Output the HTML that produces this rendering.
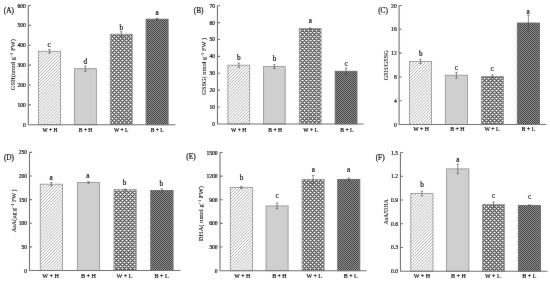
<!DOCTYPE html>
<html lang="en"><head><meta charset="utf-8"><title>Figure</title>
<style>html,body{margin:0;padding:0;background:#fff}svg{display:block}text{stroke:#111;stroke-width:.2px}.yl{stroke-width:.08px}</style>
</head><body>
<svg width="550" height="281" viewBox="0 0 550 281" font-family='"Liberation Serif", serif' fill="#111">
<defs>
<filter id="soft" filterUnits="userSpaceOnUse" x="-10" y="-10" width="570" height="301" color-interpolation-filters="sRGB"><feConvolveMatrix order="3" kernelMatrix="0.00163 0.03713 0.00163 0.03713 0.84497 0.03713 0.00163 0.03713 0.00163" divisor="1" edgeMode="duplicate" preserveAlpha="true"/></filter>
<pattern id="p4" patternUnits="userSpaceOnUse" width="2" height="2"><rect width="2" height="2" fill="#969696"/><rect width="1" height="1" fill="#3e3e3e"/><rect x="1" y="1" width="1" height="1" fill="#3e3e3e"/></pattern>
</defs>
<g filter="url(#soft)">
<rect x="-10" y="-10" width="570" height="301" fill="#fff"/>
<g id="chartA">
<clipPath id="kA0"><rect x="38.50" y="51.30" width="22.00" height="73.40"/></clipPath>
<rect x="38.50" y="51.30" width="22.00" height="73.40" fill="#fff"/>
<path clip-path="url(#kA0)" d="M-40.30 125.70L35.10 50.30M-37.25 125.70L38.15 50.30M-34.20 125.70L41.20 50.30M-31.15 125.70L44.25 50.30M-28.10 125.70L47.30 50.30M-25.05 125.70L50.35 50.30M-22.00 125.70L53.40 50.30M-18.95 125.70L56.45 50.30M-15.90 125.70L59.50 50.30M-12.85 125.70L62.55 50.30M-9.80 125.70L65.60 50.30M-6.75 125.70L68.65 50.30M-3.70 125.70L71.70 50.30M-0.65 125.70L74.75 50.30M2.40 125.70L77.80 50.30M5.45 125.70L80.85 50.30M8.50 125.70L83.90 50.30M11.55 125.70L86.95 50.30M14.60 125.70L90.00 50.30M17.65 125.70L93.05 50.30M20.70 125.70L96.10 50.30M23.75 125.70L99.15 50.30M26.80 125.70L102.20 50.30M29.85 125.70L105.25 50.30M32.90 125.70L108.30 50.30M35.95 125.70L111.35 50.30M39.00 125.70L114.40 50.30M42.05 125.70L117.45 50.30M45.10 125.70L120.50 50.30M48.15 125.70L123.55 50.30M51.20 125.70L126.60 50.30M54.25 125.70L129.65 50.30M57.30 125.70L132.70 50.30M60.35 125.70L135.75 50.30" stroke="#7a7a7a" stroke-width="0.62" fill="none"/>
<rect x="38.50" y="51.30" width="22.00" height="73.40" fill="none" stroke="#909090" stroke-width="0.8"/>
<path d="M49.50 49.40V53.20M48.30 49.40h2.4M48.30 53.20h2.4" stroke="#444" stroke-width="0.6" fill="none"/>
<rect x="74.35" y="68.70" width="22.00" height="56.00" fill="#cfcfcf" stroke="#909090" stroke-width="0.8"/>
<path d="M85.35 66.20V71.20M84.15 66.20h2.4M84.15 71.20h2.4" stroke="#444" stroke-width="0.6" fill="none"/>
<clipPath id="kA2"><rect x="110.25" y="34.20" width="22.00" height="90.50"/></clipPath>
<rect x="110.25" y="34.20" width="22.00" height="90.50" fill="#fff"/>
<path clip-path="url(#kA2)" d="M15.30 125.70L107.80 33.20M19.30 125.70L111.80 33.20M23.30 125.70L115.80 33.20M27.30 125.70L119.80 33.20M31.30 125.70L123.80 33.20M35.30 125.70L127.80 33.20M39.30 125.70L131.80 33.20M43.30 125.70L135.80 33.20M47.30 125.70L139.80 33.20M51.30 125.70L143.80 33.20M55.30 125.70L147.80 33.20M59.30 125.70L151.80 33.20M63.30 125.70L155.80 33.20M67.30 125.70L159.80 33.20M71.30 125.70L163.80 33.20M75.30 125.70L167.80 33.20M79.30 125.70L171.80 33.20M83.30 125.70L175.80 33.20M87.30 125.70L179.80 33.20M91.30 125.70L183.80 33.20M95.30 125.70L187.80 33.20M99.30 125.70L191.80 33.20M103.30 125.70L195.80 33.20M107.30 125.70L199.80 33.20M111.30 125.70L203.80 33.20M115.30 125.70L207.80 33.20M119.30 125.70L211.80 33.20M123.30 125.70L215.80 33.20M127.30 125.70L219.80 33.20M131.30 125.70L223.80 33.20M17.20 33.20L109.70 125.70M21.20 33.20L113.70 125.70M25.20 33.20L117.70 125.70M29.20 33.20L121.70 125.70M33.20 33.20L125.70 125.70M37.20 33.20L129.70 125.70M41.20 33.20L133.70 125.70M45.20 33.20L137.70 125.70M49.20 33.20L141.70 125.70M53.20 33.20L145.70 125.70M57.20 33.20L149.70 125.70M61.20 33.20L153.70 125.70M65.20 33.20L157.70 125.70M69.20 33.20L161.70 125.70M73.20 33.20L165.70 125.70M77.20 33.20L169.70 125.70M81.20 33.20L173.70 125.70M85.20 33.20L177.70 125.70M89.20 33.20L181.70 125.70M93.20 33.20L185.70 125.70M97.20 33.20L189.70 125.70M101.20 33.20L193.70 125.70M105.20 33.20L197.70 125.70M109.20 33.20L201.70 125.70M113.20 33.20L205.70 125.70M117.20 33.20L209.70 125.70M121.20 33.20L213.70 125.70M125.20 33.20L217.70 125.70M129.20 33.20L221.70 125.70M133.20 33.20L225.70 125.70" stroke="#505050" stroke-width="1.15" fill="none"/>
<rect x="110.25" y="34.20" width="22.00" height="90.50" fill="none" stroke="#909090" stroke-width="0.8"/>
<path d="M121.25 31.70V36.70M120.05 31.70h2.4M120.05 36.70h2.4" stroke="#444" stroke-width="0.6" fill="none"/>
<rect x="146.10" y="19.20" width="22.00" height="105.50" fill="url(#p4)" stroke="#6a6a6a" stroke-width="0.9"/>
<path d="M157.10 18.30V20.10M155.90 18.30h2.4M155.90 20.10h2.4" stroke="#444" stroke-width="0.6" fill="none"/>
<path d="M28.30 5.50V124.70H175.40M28.30 104.83h2.6M28.30 84.97h2.6M28.30 65.10h2.6M28.30 45.23h2.6M28.30 25.37h2.6M28.30 5.50h2.6" stroke="#727272" stroke-width="1.1" fill="none"/>
<text x="25.90" y="126.70" font-size="5.6" text-anchor="end">0</text>
<text x="25.90" y="106.83" font-size="5.6" text-anchor="end">100</text>
<text x="25.90" y="86.97" font-size="5.6" text-anchor="end">200</text>
<text x="25.90" y="67.10" font-size="5.6" text-anchor="end">300</text>
<text x="25.90" y="47.23" font-size="5.6" text-anchor="end">400</text>
<text x="25.90" y="27.37" font-size="5.6" text-anchor="end">500</text>
<text x="25.90" y="7.50" font-size="5.6" text-anchor="end">600</text>
<text x="50.00" y="132.00" font-size="5.5" text-anchor="middle">W + H</text>
<text x="85.60" y="132.00" font-size="5.5" text-anchor="middle">B + H</text>
<text x="121.25" y="132.00" font-size="5.5" text-anchor="middle">W + L</text>
<text x="157.10" y="132.00" font-size="5.5" text-anchor="middle">B + L</text>
<text x="49.10" y="47.20" font-size="7.2" text-anchor="middle">c</text>
<text x="85.40" y="64.10" font-size="7.2" text-anchor="middle">d</text>
<text x="121.40" y="29.90" font-size="7.2" text-anchor="middle">b</text>
<text x="157.00" y="14.90" font-size="7.2" text-anchor="middle">a</text>
<text x="3.80" y="12.90" font-size="7.3">(A)</text>
<text transform="translate(14.80 90.30) rotate(-90)" class="yl" font-size="5.8" textLength="51.1" lengthAdjust="spacingAndGlyphs">GSH(nmol g<tspan dy="-2" font-size="3.6">−1</tspan><tspan dy="2"> FW)</tspan></text>
</g>
<g id="chartB">
<clipPath id="kB0"><rect x="227.90" y="65.20" width="21.80" height="58.75"/></clipPath>
<rect x="227.90" y="65.20" width="21.80" height="58.75" fill="#fff"/>
<path clip-path="url(#kB0)" d="M164.80 124.95L225.55 64.20M167.85 124.95L228.60 64.20M170.90 124.95L231.65 64.20M173.95 124.95L234.70 64.20M177.00 124.95L237.75 64.20M180.05 124.95L240.80 64.20M183.10 124.95L243.85 64.20M186.15 124.95L246.90 64.20M189.20 124.95L249.95 64.20M192.25 124.95L253.00 64.20M195.30 124.95L256.05 64.20M198.35 124.95L259.10 64.20M201.40 124.95L262.15 64.20M204.45 124.95L265.20 64.20M207.50 124.95L268.25 64.20M210.55 124.95L271.30 64.20M213.60 124.95L274.35 64.20M216.65 124.95L277.40 64.20M219.70 124.95L280.45 64.20M222.75 124.95L283.50 64.20M225.80 124.95L286.55 64.20M228.85 124.95L289.60 64.20M231.90 124.95L292.65 64.20M234.95 124.95L295.70 64.20M238.00 124.95L298.75 64.20M241.05 124.95L301.80 64.20M244.10 124.95L304.85 64.20M247.15 124.95L307.90 64.20M250.20 124.95L310.95 64.20" stroke="#7a7a7a" stroke-width="0.62" fill="none"/>
<rect x="227.90" y="65.20" width="21.80" height="58.75" fill="none" stroke="#909090" stroke-width="0.8"/>
<path d="M238.80 63.10V67.30M237.60 63.10h2.4M237.60 67.30h2.4" stroke="#444" stroke-width="0.6" fill="none"/>
<rect x="263.40" y="66.60" width="21.80" height="57.35" fill="#cfcfcf" stroke="#909090" stroke-width="0.8"/>
<path d="M274.30 64.75V68.45M273.10 64.75h2.4M273.10 68.45h2.4" stroke="#444" stroke-width="0.6" fill="none"/>
<clipPath id="kB2"><rect x="299.30" y="28.50" width="21.80" height="95.45"/></clipPath>
<rect x="299.30" y="28.50" width="21.80" height="95.45" fill="#fff"/>
<path clip-path="url(#kB2)" d="M196.05 124.95L293.50 27.50M200.05 124.95L297.50 27.50M204.05 124.95L301.50 27.50M208.05 124.95L305.50 27.50M212.05 124.95L309.50 27.50M216.05 124.95L313.50 27.50M220.05 124.95L317.50 27.50M224.05 124.95L321.50 27.50M228.05 124.95L325.50 27.50M232.05 124.95L329.50 27.50M236.05 124.95L333.50 27.50M240.05 124.95L337.50 27.50M244.05 124.95L341.50 27.50M248.05 124.95L345.50 27.50M252.05 124.95L349.50 27.50M256.05 124.95L353.50 27.50M260.05 124.95L357.50 27.50M264.05 124.95L361.50 27.50M268.05 124.95L365.50 27.50M272.05 124.95L369.50 27.50M276.05 124.95L373.50 27.50M280.05 124.95L377.50 27.50M284.05 124.95L381.50 27.50M288.05 124.95L385.50 27.50M292.05 124.95L389.50 27.50M296.05 124.95L393.50 27.50M300.05 124.95L397.50 27.50M304.05 124.95L401.50 27.50M308.05 124.95L405.50 27.50M312.05 124.95L409.50 27.50M316.05 124.95L413.50 27.50M320.05 124.95L417.50 27.50M324.05 124.95L421.50 27.50M199.50 27.50L296.95 124.95M203.50 27.50L300.95 124.95M207.50 27.50L304.95 124.95M211.50 27.50L308.95 124.95M215.50 27.50L312.95 124.95M219.50 27.50L316.95 124.95M223.50 27.50L320.95 124.95M227.50 27.50L324.95 124.95M231.50 27.50L328.95 124.95M235.50 27.50L332.95 124.95M239.50 27.50L336.95 124.95M243.50 27.50L340.95 124.95M247.50 27.50L344.95 124.95M251.50 27.50L348.95 124.95M255.50 27.50L352.95 124.95M259.50 27.50L356.95 124.95M263.50 27.50L360.95 124.95M267.50 27.50L364.95 124.95M271.50 27.50L368.95 124.95M275.50 27.50L372.95 124.95M279.50 27.50L376.95 124.95M283.50 27.50L380.95 124.95M287.50 27.50L384.95 124.95M291.50 27.50L388.95 124.95M295.50 27.50L392.95 124.95M299.50 27.50L396.95 124.95M303.50 27.50L400.95 124.95M307.50 27.50L404.95 124.95M311.50 27.50L408.95 124.95M315.50 27.50L412.95 124.95M319.50 27.50L416.95 124.95M323.50 27.50L420.95 124.95" stroke="#505050" stroke-width="1.15" fill="none"/>
<rect x="299.30" y="28.50" width="21.80" height="95.45" fill="none" stroke="#909090" stroke-width="0.8"/>
<path d="M310.20 28.00V29.00M309.00 28.00h2.4M309.00 29.00h2.4" stroke="#444" stroke-width="0.6" fill="none"/>
<rect x="335.20" y="71.30" width="21.80" height="52.65" fill="url(#p4)" stroke="#6a6a6a" stroke-width="0.9"/>
<path d="M346.10 68.00V74.60M344.90 68.00h2.4M344.90 74.60h2.4" stroke="#444" stroke-width="0.6" fill="none"/>
<path d="M217.45 5.70V123.95H363.60M217.45 107.06h2.6M217.45 90.16h2.6M217.45 73.27h2.6M217.45 56.38h2.6M217.45 39.49h2.6M217.45 22.59h2.6M217.45 5.70h2.6" stroke="#727272" stroke-width="1.1" fill="none"/>
<text x="215.05" y="125.95" font-size="5.6" text-anchor="end">0</text>
<text x="215.05" y="109.06" font-size="5.6" text-anchor="end">10</text>
<text x="215.05" y="92.16" font-size="5.6" text-anchor="end">20</text>
<text x="215.05" y="75.27" font-size="5.6" text-anchor="end">30</text>
<text x="215.05" y="58.38" font-size="5.6" text-anchor="end">40</text>
<text x="215.05" y="41.49" font-size="5.6" text-anchor="end">50</text>
<text x="215.05" y="24.59" font-size="5.6" text-anchor="end">60</text>
<text x="215.05" y="7.70" font-size="5.6" text-anchor="end">70</text>
<text x="238.70" y="132.00" font-size="5.6" text-anchor="middle">W + H</text>
<text x="275.20" y="132.00" font-size="5.6" text-anchor="middle">B + H</text>
<text x="310.60" y="132.00" font-size="5.6" text-anchor="middle">W + L</text>
<text x="346.90" y="132.00" font-size="5.6" text-anchor="middle">B + L</text>
<text x="238.90" y="59.70" font-size="7.2" text-anchor="middle">b</text>
<text x="274.50" y="60.80" font-size="7.2" text-anchor="middle">b</text>
<text x="310.40" y="23.20" font-size="7.2" text-anchor="middle">a</text>
<text x="346.00" y="65.60" font-size="7.2" text-anchor="middle">c</text>
<text x="193.80" y="12.60" font-size="7.3">(B)</text>
<text transform="translate(206.20 94.70) rotate(-90)" class="yl" font-size="5.8" textLength="56.8" lengthAdjust="spacingAndGlyphs">GSSG( nmol g<tspan dy="-2" font-size="3.6">−1</tspan><tspan dy="2"> FW )</tspan></text>
</g>
<g id="chartC">
<clipPath id="kC0"><rect x="409.40" y="61.50" width="22.20" height="63.05"/></clipPath>
<rect x="409.40" y="61.50" width="22.20" height="63.05" fill="#fff"/>
<path clip-path="url(#kC0)" d="M341.10 125.55L406.15 60.50M344.15 125.55L409.20 60.50M347.20 125.55L412.25 60.50M350.25 125.55L415.30 60.50M353.30 125.55L418.35 60.50M356.35 125.55L421.40 60.50M359.40 125.55L424.45 60.50M362.45 125.55L427.50 60.50M365.50 125.55L430.55 60.50M368.55 125.55L433.60 60.50M371.60 125.55L436.65 60.50M374.65 125.55L439.70 60.50M377.70 125.55L442.75 60.50M380.75 125.55L445.80 60.50M383.80 125.55L448.85 60.50M386.85 125.55L451.90 60.50M389.90 125.55L454.95 60.50M392.95 125.55L458.00 60.50M396.00 125.55L461.05 60.50M399.05 125.55L464.10 60.50M402.10 125.55L467.15 60.50M405.15 125.55L470.20 60.50M408.20 125.55L473.25 60.50M411.25 125.55L476.30 60.50M414.30 125.55L479.35 60.50M417.35 125.55L482.40 60.50M420.40 125.55L485.45 60.50M423.45 125.55L488.50 60.50M426.50 125.55L491.55 60.50M429.55 125.55L494.60 60.50M432.60 125.55L497.65 60.50" stroke="#7a7a7a" stroke-width="0.62" fill="none"/>
<rect x="409.40" y="61.50" width="22.20" height="63.05" fill="none" stroke="#909090" stroke-width="0.8"/>
<path d="M420.50 59.35V63.65M419.30 59.35h2.4M419.30 63.65h2.4" stroke="#444" stroke-width="0.6" fill="none"/>
<rect x="445.30" y="75.20" width="22.20" height="49.35" fill="#cfcfcf" stroke="#909090" stroke-width="0.8"/>
<path d="M456.40 72.30V78.10M455.20 72.30h2.4M455.20 78.10h2.4" stroke="#444" stroke-width="0.6" fill="none"/>
<clipPath id="kC2"><rect x="481.30" y="76.50" width="22.20" height="48.05"/></clipPath>
<rect x="481.30" y="76.50" width="22.20" height="48.05" fill="#fff"/>
<path clip-path="url(#kC2)" d="M427.45 125.55L477.50 75.50M431.45 125.55L481.50 75.50M435.45 125.55L485.50 75.50M439.45 125.55L489.50 75.50M443.45 125.55L493.50 75.50M447.45 125.55L497.50 75.50M451.45 125.55L501.50 75.50M455.45 125.55L505.50 75.50M459.45 125.55L509.50 75.50M463.45 125.55L513.50 75.50M467.45 125.55L517.50 75.50M471.45 125.55L521.50 75.50M475.45 125.55L525.50 75.50M479.45 125.55L529.50 75.50M483.45 125.55L533.50 75.50M487.45 125.55L537.50 75.50M491.45 125.55L541.50 75.50M495.45 125.55L545.50 75.50M499.45 125.55L549.50 75.50M503.45 125.55L553.50 75.50M431.50 75.50L481.55 125.55M435.50 75.50L485.55 125.55M439.50 75.50L489.55 125.55M443.50 75.50L493.55 125.55M447.50 75.50L497.55 125.55M451.50 75.50L501.55 125.55M455.50 75.50L505.55 125.55M459.50 75.50L509.55 125.55M463.50 75.50L513.55 125.55M467.50 75.50L517.55 125.55M471.50 75.50L521.55 125.55M475.50 75.50L525.55 125.55M479.50 75.50L529.55 125.55M483.50 75.50L533.55 125.55M487.50 75.50L537.55 125.55M491.50 75.50L541.55 125.55M495.50 75.50L545.55 125.55M499.50 75.50L549.55 125.55M503.50 75.50L553.55 125.55" stroke="#505050" stroke-width="1.15" fill="none"/>
<rect x="481.30" y="76.50" width="22.20" height="48.05" fill="none" stroke="#909090" stroke-width="0.8"/>
<path d="M492.40 74.90V78.10M491.20 74.90h2.4M491.20 78.10h2.4" stroke="#444" stroke-width="0.6" fill="none"/>
<rect x="517.30" y="23.00" width="22.20" height="101.55" fill="url(#p4)" stroke="#6a6a6a" stroke-width="0.9"/>
<path d="M528.40 15.25V30.75M527.20 15.25h2.4M527.20 30.75h2.4" stroke="#444" stroke-width="0.6" fill="none"/>
<path d="M399.10 5.50V124.55H546.20M399.10 100.74h2.6M399.10 76.93h2.6M399.10 53.12h2.6M399.10 29.31h2.6M399.10 5.50h2.6" stroke="#727272" stroke-width="1.1" fill="none"/>
<text x="396.70" y="126.55" font-size="5.6" text-anchor="end">0</text>
<text x="396.70" y="102.74" font-size="5.6" text-anchor="end">4</text>
<text x="396.70" y="78.93" font-size="5.6" text-anchor="end">8</text>
<text x="396.70" y="55.12" font-size="5.6" text-anchor="end">12</text>
<text x="396.70" y="31.31" font-size="5.6" text-anchor="end">16</text>
<text x="396.70" y="7.50" font-size="5.6" text-anchor="end">20</text>
<text x="421.00" y="131.40" font-size="5.8" text-anchor="middle">W + H</text>
<text x="457.40" y="131.40" font-size="5.8" text-anchor="middle">B + H</text>
<text x="492.00" y="131.40" font-size="5.8" text-anchor="middle">W + L</text>
<text x="528.40" y="131.40" font-size="5.8" text-anchor="middle">B + L</text>
<text x="420.80" y="55.80" font-size="7.2" text-anchor="middle">b</text>
<text x="456.40" y="69.90" font-size="7.2" text-anchor="middle">c</text>
<text x="492.10" y="70.80" font-size="7.2" text-anchor="middle">c</text>
<text x="528.20" y="14.10" font-size="7.2" text-anchor="middle">a</text>
<text x="378.20" y="12.50" font-size="7.3">(C)</text>
<text transform="translate(388.00 80.20) rotate(-90)" class="yl" font-size="5.8" textLength="29.8" lengthAdjust="spacingAndGlyphs">GSH/GSSG</text>
</g>
<g id="chartD">
<clipPath id="kD0"><rect x="40.25" y="184.20" width="22.30" height="86.30"/></clipPath>
<rect x="40.25" y="184.20" width="22.30" height="86.30" fill="#fff"/>
<path clip-path="url(#kD0)" d="M-51.90 271.50L36.40 183.20M-48.85 271.50L39.45 183.20M-45.80 271.50L42.50 183.20M-42.75 271.50L45.55 183.20M-39.70 271.50L48.60 183.20M-36.65 271.50L51.65 183.20M-33.60 271.50L54.70 183.20M-30.55 271.50L57.75 183.20M-27.50 271.50L60.80 183.20M-24.45 271.50L63.85 183.20M-21.40 271.50L66.90 183.20M-18.35 271.50L69.95 183.20M-15.30 271.50L73.00 183.20M-12.25 271.50L76.05 183.20M-9.20 271.50L79.10 183.20M-6.15 271.50L82.15 183.20M-3.10 271.50L85.20 183.20M-0.05 271.50L88.25 183.20M3.00 271.50L91.30 183.20M6.05 271.50L94.35 183.20M9.10 271.50L97.40 183.20M12.15 271.50L100.45 183.20M15.20 271.50L103.50 183.20M18.25 271.50L106.55 183.20M21.30 271.50L109.60 183.20M24.35 271.50L112.65 183.20M27.40 271.50L115.70 183.20M30.45 271.50L118.75 183.20M33.50 271.50L121.80 183.20M36.55 271.50L124.85 183.20M39.60 271.50L127.90 183.20M42.65 271.50L130.95 183.20M45.70 271.50L134.00 183.20M48.75 271.50L137.05 183.20M51.80 271.50L140.10 183.20M54.85 271.50L143.15 183.20M57.90 271.50L146.20 183.20M60.95 271.50L149.25 183.20M64.00 271.50L152.30 183.20" stroke="#7a7a7a" stroke-width="0.62" fill="none"/>
<rect x="40.25" y="184.20" width="22.30" height="86.30" fill="none" stroke="#909090" stroke-width="0.8"/>
<path d="M51.40 182.40V186.00M50.20 182.40h2.4M50.20 186.00h2.4" stroke="#444" stroke-width="0.6" fill="none"/>
<rect x="77.35" y="182.50" width="22.30" height="88.00" fill="#cfcfcf" stroke="#909090" stroke-width="0.8"/>
<path d="M88.50 181.80V183.20M87.30 181.80h2.4M87.30 183.20h2.4" stroke="#444" stroke-width="0.6" fill="none"/>
<clipPath id="kD2"><rect x="113.95" y="189.70" width="22.30" height="80.80"/></clipPath>
<rect x="113.95" y="189.70" width="22.30" height="80.80" fill="#fff"/>
<path clip-path="url(#kD2)" d="M25.50 271.50L108.30 188.70M29.50 271.50L112.30 188.70M33.50 271.50L116.30 188.70M37.50 271.50L120.30 188.70M41.50 271.50L124.30 188.70M45.50 271.50L128.30 188.70M49.50 271.50L132.30 188.70M53.50 271.50L136.30 188.70M57.50 271.50L140.30 188.70M61.50 271.50L144.30 188.70M65.50 271.50L148.30 188.70M69.50 271.50L152.30 188.70M73.50 271.50L156.30 188.70M77.50 271.50L160.30 188.70M81.50 271.50L164.30 188.70M85.50 271.50L168.30 188.70M89.50 271.50L172.30 188.70M93.50 271.50L176.30 188.70M97.50 271.50L180.30 188.70M101.50 271.50L184.30 188.70M105.50 271.50L188.30 188.70M109.50 271.50L192.30 188.70M113.50 271.50L196.30 188.70M117.50 271.50L200.30 188.70M121.50 271.50L204.30 188.70M125.50 271.50L208.30 188.70M129.50 271.50L212.30 188.70M133.50 271.50L216.30 188.70M137.50 271.50L220.30 188.70M28.70 188.70L111.50 271.50M32.70 188.70L115.50 271.50M36.70 188.70L119.50 271.50M40.70 188.70L123.50 271.50M44.70 188.70L127.50 271.50M48.70 188.70L131.50 271.50M52.70 188.70L135.50 271.50M56.70 188.70L139.50 271.50M60.70 188.70L143.50 271.50M64.70 188.70L147.50 271.50M68.70 188.70L151.50 271.50M72.70 188.70L155.50 271.50M76.70 188.70L159.50 271.50M80.70 188.70L163.50 271.50M84.70 188.70L167.50 271.50M88.70 188.70L171.50 271.50M92.70 188.70L175.50 271.50M96.70 188.70L179.50 271.50M100.70 188.70L183.50 271.50M104.70 188.70L187.50 271.50M108.70 188.70L191.50 271.50M112.70 188.70L195.50 271.50M116.70 188.70L199.50 271.50M120.70 188.70L203.50 271.50M124.70 188.70L207.50 271.50M128.70 188.70L211.50 271.50M132.70 188.70L215.50 271.50M136.70 188.70L219.50 271.50" stroke="#505050" stroke-width="1.15" fill="none"/>
<rect x="113.95" y="189.70" width="22.30" height="80.80" fill="none" stroke="#909090" stroke-width="0.8"/>
<path d="M125.10 189.10V190.30M123.90 189.10h2.4M123.90 190.30h2.4" stroke="#444" stroke-width="0.6" fill="none"/>
<rect x="150.75" y="190.50" width="22.30" height="80.00" fill="url(#p4)" stroke="#6a6a6a" stroke-width="0.9"/>
<path d="M161.90 188.85V192.15M160.70 188.85h2.4M160.70 192.15h2.4" stroke="#444" stroke-width="0.6" fill="none"/>
<path d="M29.50 152.40V270.50H180.50M29.50 246.88h2.6M29.50 223.26h2.6M29.50 199.64h2.6M29.50 176.02h2.6M29.50 152.40h2.6" stroke="#727272" stroke-width="1.1" fill="none"/>
<text x="27.10" y="272.50" font-size="5.6" text-anchor="end">0</text>
<text x="27.10" y="248.88" font-size="5.6" text-anchor="end">50</text>
<text x="27.10" y="225.26" font-size="5.6" text-anchor="end">100</text>
<text x="27.10" y="201.64" font-size="5.6" text-anchor="end">150</text>
<text x="27.10" y="178.02" font-size="5.6" text-anchor="end">200</text>
<text x="27.10" y="154.40" font-size="5.6" text-anchor="end">250</text>
<text x="50.60" y="278.00" font-size="6.1" text-anchor="middle">W + H</text>
<text x="88.50" y="278.00" font-size="6.1" text-anchor="middle">B + H</text>
<text x="124.50" y="278.00" font-size="6.1" text-anchor="middle">W + L</text>
<text x="161.60" y="278.00" font-size="6.1" text-anchor="middle">B + L</text>
<text x="51.10" y="179.90" font-size="7.2" text-anchor="middle">a</text>
<text x="87.90" y="177.90" font-size="7.2" text-anchor="middle">a</text>
<text x="124.60" y="185.20" font-size="7.2" text-anchor="middle">b</text>
<text x="161.40" y="186.20" font-size="7.2" text-anchor="middle">b</text>
<text x="3.90" y="159.50" font-size="7.3">(D)</text>
<text transform="translate(16.10 232.30) rotate(-90)" class="yl" font-size="5.8" textLength="43.0" lengthAdjust="spacingAndGlyphs">AsA(μg g<tspan dy="-2" font-size="3.6">−1</tspan><tspan dy="2"> FW )</tspan></text>
</g>
<g id="chartE">
<clipPath id="kE0"><rect x="230.30" y="187.50" width="22.10" height="83.20"/></clipPath>
<rect x="230.30" y="187.50" width="22.10" height="83.20" fill="#fff"/>
<path clip-path="url(#kE0)" d="M140.05 271.70L225.25 186.50M143.10 271.70L228.30 186.50M146.15 271.70L231.35 186.50M149.20 271.70L234.40 186.50M152.25 271.70L237.45 186.50M155.30 271.70L240.50 186.50M158.35 271.70L243.55 186.50M161.40 271.70L246.60 186.50M164.45 271.70L249.65 186.50M167.50 271.70L252.70 186.50M170.55 271.70L255.75 186.50M173.60 271.70L258.80 186.50M176.65 271.70L261.85 186.50M179.70 271.70L264.90 186.50M182.75 271.70L267.95 186.50M185.80 271.70L271.00 186.50M188.85 271.70L274.05 186.50M191.90 271.70L277.10 186.50M194.95 271.70L280.15 186.50M198.00 271.70L283.20 186.50M201.05 271.70L286.25 186.50M204.10 271.70L289.30 186.50M207.15 271.70L292.35 186.50M210.20 271.70L295.40 186.50M213.25 271.70L298.45 186.50M216.30 271.70L301.50 186.50M219.35 271.70L304.55 186.50M222.40 271.70L307.60 186.50M225.45 271.70L310.65 186.50M228.50 271.70L313.70 186.50M231.55 271.70L316.75 186.50M234.60 271.70L319.80 186.50M237.65 271.70L322.85 186.50M240.70 271.70L325.90 186.50M243.75 271.70L328.95 186.50M246.80 271.70L332.00 186.50M249.85 271.70L335.05 186.50M252.90 271.70L338.10 186.50" stroke="#7a7a7a" stroke-width="0.62" fill="none"/>
<rect x="230.30" y="187.50" width="22.10" height="83.20" fill="none" stroke="#909090" stroke-width="0.8"/>
<path d="M241.35 186.45V188.55M240.15 186.45h2.4M240.15 188.55h2.4" stroke="#444" stroke-width="0.6" fill="none"/>
<rect x="266.00" y="205.90" width="22.10" height="64.80" fill="#cfcfcf" stroke="#909090" stroke-width="0.8"/>
<path d="M277.05 203.00V208.80M275.85 203.00h2.4M275.85 208.80h2.4" stroke="#444" stroke-width="0.6" fill="none"/>
<clipPath id="kE2"><rect x="302.05" y="179.40" width="22.10" height="91.30"/></clipPath>
<rect x="302.05" y="179.40" width="22.10" height="91.30" fill="#fff"/>
<path clip-path="url(#kE2)" d="M205.30 271.70L298.60 178.40M209.30 271.70L302.60 178.40M213.30 271.70L306.60 178.40M217.30 271.70L310.60 178.40M221.30 271.70L314.60 178.40M225.30 271.70L318.60 178.40M229.30 271.70L322.60 178.40M233.30 271.70L326.60 178.40M237.30 271.70L330.60 178.40M241.30 271.70L334.60 178.40M245.30 271.70L338.60 178.40M249.30 271.70L342.60 178.40M253.30 271.70L346.60 178.40M257.30 271.70L350.60 178.40M261.30 271.70L354.60 178.40M265.30 271.70L358.60 178.40M269.30 271.70L362.60 178.40M273.30 271.70L366.60 178.40M277.30 271.70L370.60 178.40M281.30 271.70L374.60 178.40M285.30 271.70L378.60 178.40M289.30 271.70L382.60 178.40M293.30 271.70L386.60 178.40M297.30 271.70L390.60 178.40M301.30 271.70L394.60 178.40M305.30 271.70L398.60 178.40M309.30 271.70L402.60 178.40M313.30 271.70L406.60 178.40M317.30 271.70L410.60 178.40M321.30 271.70L414.60 178.40M325.30 271.70L418.60 178.40M206.40 178.40L299.70 271.70M210.40 178.40L303.70 271.70M214.40 178.40L307.70 271.70M218.40 178.40L311.70 271.70M222.40 178.40L315.70 271.70M226.40 178.40L319.70 271.70M230.40 178.40L323.70 271.70M234.40 178.40L327.70 271.70M238.40 178.40L331.70 271.70M242.40 178.40L335.70 271.70M246.40 178.40L339.70 271.70M250.40 178.40L343.70 271.70M254.40 178.40L347.70 271.70M258.40 178.40L351.70 271.70M262.40 178.40L355.70 271.70M266.40 178.40L359.70 271.70M270.40 178.40L363.70 271.70M274.40 178.40L367.70 271.70M278.40 178.40L371.70 271.70M282.40 178.40L375.70 271.70M286.40 178.40L379.70 271.70M290.40 178.40L383.70 271.70M294.40 178.40L387.70 271.70M298.40 178.40L391.70 271.70M302.40 178.40L395.70 271.70M306.40 178.40L399.70 271.70M310.40 178.40L403.70 271.70M314.40 178.40L407.70 271.70M318.40 178.40L411.70 271.70M322.40 178.40L415.70 271.70M326.40 178.40L419.70 271.70" stroke="#505050" stroke-width="1.15" fill="none"/>
<rect x="302.05" y="179.40" width="22.10" height="91.30" fill="none" stroke="#909090" stroke-width="0.8"/>
<path d="M313.10 175.40V183.40M311.90 175.40h2.4M311.90 183.40h2.4" stroke="#444" stroke-width="0.6" fill="none"/>
<rect x="337.70" y="179.40" width="22.10" height="91.30" fill="url(#p4)" stroke="#6a6a6a" stroke-width="0.9"/>
<path d="M348.75 177.95V180.85M347.55 177.95h2.4M347.55 180.85h2.4" stroke="#444" stroke-width="0.6" fill="none"/>
<path d="M220.00 152.50V270.70H366.70M220.00 247.06h2.6M220.00 223.42h2.6M220.00 199.78h2.6M220.00 176.14h2.6M220.00 152.50h2.6" stroke="#727272" stroke-width="1.1" fill="none"/>
<text x="217.60" y="272.70" font-size="5.6" text-anchor="end">0</text>
<text x="217.60" y="249.06" font-size="5.6" text-anchor="end">300</text>
<text x="217.60" y="225.42" font-size="5.6" text-anchor="end">600</text>
<text x="217.60" y="201.78" font-size="5.6" text-anchor="end">900</text>
<text x="217.60" y="178.14" font-size="5.6" text-anchor="end">1200</text>
<text x="217.60" y="154.50" font-size="5.6" text-anchor="end">1500</text>
<text x="242.20" y="278.00" font-size="5.9" text-anchor="middle">W + H</text>
<text x="279.40" y="278.00" font-size="5.9" text-anchor="middle">B + H</text>
<text x="314.20" y="278.00" font-size="5.9" text-anchor="middle">W + L</text>
<text x="350.70" y="278.00" font-size="5.9" text-anchor="middle">B + L</text>
<text x="241.50" y="179.60" font-size="7.2" text-anchor="middle">b</text>
<text x="277.20" y="197.80" font-size="7.2" text-anchor="middle">c</text>
<text x="313.30" y="171.90" font-size="7.2" text-anchor="middle">a</text>
<text x="348.60" y="171.90" font-size="7.2" text-anchor="middle">a</text>
<text x="186.30" y="159.20" font-size="7.3">(E)</text>
<text transform="translate(203.10 241.20) rotate(-90)" class="yl" font-size="5.8" textLength="55.3" lengthAdjust="spacingAndGlyphs">DHA( nmol g<tspan dy="-2" font-size="3.6">−1</tspan><tspan dy="2"> FW)</tspan></text>
</g>
<g id="chartF">
<clipPath id="kF0"><rect x="410.80" y="193.50" width="22.20" height="77.70"/></clipPath>
<rect x="410.80" y="193.50" width="22.20" height="77.70" fill="#fff"/>
<path clip-path="url(#kF0)" d="M328.65 272.20L408.35 192.50M331.70 272.20L411.40 192.50M334.75 272.20L414.45 192.50M337.80 272.20L417.50 192.50M340.85 272.20L420.55 192.50M343.90 272.20L423.60 192.50M346.95 272.20L426.65 192.50M350.00 272.20L429.70 192.50M353.05 272.20L432.75 192.50M356.10 272.20L435.80 192.50M359.15 272.20L438.85 192.50M362.20 272.20L441.90 192.50M365.25 272.20L444.95 192.50M368.30 272.20L448.00 192.50M371.35 272.20L451.05 192.50M374.40 272.20L454.10 192.50M377.45 272.20L457.15 192.50M380.50 272.20L460.20 192.50M383.55 272.20L463.25 192.50M386.60 272.20L466.30 192.50M389.65 272.20L469.35 192.50M392.70 272.20L472.40 192.50M395.75 272.20L475.45 192.50M398.80 272.20L478.50 192.50M401.85 272.20L481.55 192.50M404.90 272.20L484.60 192.50M407.95 272.20L487.65 192.50M411.00 272.20L490.70 192.50M414.05 272.20L493.75 192.50M417.10 272.20L496.80 192.50M420.15 272.20L499.85 192.50M423.20 272.20L502.90 192.50M426.25 272.20L505.95 192.50M429.30 272.20L509.00 192.50M432.35 272.20L512.05 192.50" stroke="#7a7a7a" stroke-width="0.62" fill="none"/>
<rect x="410.80" y="193.50" width="22.20" height="77.70" fill="none" stroke="#909090" stroke-width="0.8"/>
<path d="M421.90 191.15V195.85M420.70 191.15h2.4M420.70 195.85h2.4" stroke="#444" stroke-width="0.6" fill="none"/>
<rect x="446.65" y="168.90" width="22.20" height="102.30" fill="#cfcfcf" stroke="#909090" stroke-width="0.8"/>
<path d="M457.75 164.25V173.55M456.55 164.25h2.4M456.55 173.55h2.4" stroke="#444" stroke-width="0.6" fill="none"/>
<clipPath id="kF2"><rect x="482.45" y="204.60" width="22.20" height="66.60"/></clipPath>
<rect x="482.45" y="204.60" width="22.20" height="66.60" fill="#fff"/>
<path clip-path="url(#kF2)" d="M408.80 272.20L477.40 203.60M412.80 272.20L481.40 203.60M416.80 272.20L485.40 203.60M420.80 272.20L489.40 203.60M424.80 272.20L493.40 203.60M428.80 272.20L497.40 203.60M432.80 272.20L501.40 203.60M436.80 272.20L505.40 203.60M440.80 272.20L509.40 203.60M444.80 272.20L513.40 203.60M448.80 272.20L517.40 203.60M452.80 272.20L521.40 203.60M456.80 272.20L525.40 203.60M460.80 272.20L529.40 203.60M464.80 272.20L533.40 203.60M468.80 272.20L537.40 203.60M472.80 272.20L541.40 203.60M476.80 272.20L545.40 203.60M480.80 272.20L549.40 203.60M484.80 272.20L553.40 203.60M488.80 272.20L557.40 203.60M492.80 272.20L561.40 203.60M496.80 272.20L565.40 203.60M500.80 272.20L569.40 203.60M504.80 272.20L573.40 203.60M411.60 203.60L480.20 272.20M415.60 203.60L484.20 272.20M419.60 203.60L488.20 272.20M423.60 203.60L492.20 272.20M427.60 203.60L496.20 272.20M431.60 203.60L500.20 272.20M435.60 203.60L504.20 272.20M439.60 203.60L508.20 272.20M443.60 203.60L512.20 272.20M447.60 203.60L516.20 272.20M451.60 203.60L520.20 272.20M455.60 203.60L524.20 272.20M459.60 203.60L528.20 272.20M463.60 203.60L532.20 272.20M467.60 203.60L536.20 272.20M471.60 203.60L540.20 272.20M475.60 203.60L544.20 272.20M479.60 203.60L548.20 272.20M483.60 203.60L552.20 272.20M487.60 203.60L556.20 272.20M491.60 203.60L560.20 272.20M495.60 203.60L564.20 272.20M499.60 203.60L568.20 272.20M503.60 203.60L572.20 272.20M507.60 203.60L576.20 272.20" stroke="#505050" stroke-width="1.15" fill="none"/>
<rect x="482.45" y="204.60" width="22.20" height="66.60" fill="none" stroke="#909090" stroke-width="0.8"/>
<path d="M493.55 201.90V207.30M492.35 201.90h2.4M492.35 207.30h2.4" stroke="#444" stroke-width="0.6" fill="none"/>
<rect x="518.35" y="205.40" width="22.20" height="65.80" fill="url(#p4)" stroke="#6a6a6a" stroke-width="0.9"/>
<path d="M529.45 204.90V205.90M528.25 204.90h2.4M528.25 205.90h2.4" stroke="#444" stroke-width="0.6" fill="none"/>
<path d="M400.45 152.50V271.20H547.50M400.45 247.46h2.6M400.45 223.72h2.6M400.45 199.98h2.6M400.45 176.24h2.6M400.45 152.50h2.6" stroke="#727272" stroke-width="1.1" fill="none"/>
<text x="398.05" y="273.20" font-size="5.6" text-anchor="end">0.0</text>
<text x="398.05" y="249.46" font-size="5.6" text-anchor="end">0.3</text>
<text x="398.05" y="225.72" font-size="5.6" text-anchor="end">0.6</text>
<text x="398.05" y="201.98" font-size="5.6" text-anchor="end">0.9</text>
<text x="398.05" y="178.24" font-size="5.6" text-anchor="end">1.2</text>
<text x="398.05" y="154.50" font-size="5.6" text-anchor="end">1.5</text>
<text x="421.90" y="278.20" font-size="6.0" text-anchor="middle">W + H</text>
<text x="458.40" y="278.20" font-size="6.0" text-anchor="middle">B + H</text>
<text x="492.80" y="278.20" font-size="6.0" text-anchor="middle">W + L</text>
<text x="529.40" y="278.20" font-size="6.0" text-anchor="middle">B + L</text>
<text x="422.10" y="186.60" font-size="7.2" text-anchor="middle">b</text>
<text x="457.90" y="161.70" font-size="7.2" text-anchor="middle">a</text>
<text x="493.70" y="197.90" font-size="7.2" text-anchor="middle">c</text>
<text x="529.60" y="198.80" font-size="7.2" text-anchor="middle">c</text>
<text x="375.70" y="159.50" font-size="7.3">(F)</text>
<text transform="translate(388.00 224.60) rotate(-90)" class="yl" font-size="5.8" textLength="25.3" lengthAdjust="spacingAndGlyphs">AsA/DHA</text>
</g>
</g>
</svg>
</body></html>
